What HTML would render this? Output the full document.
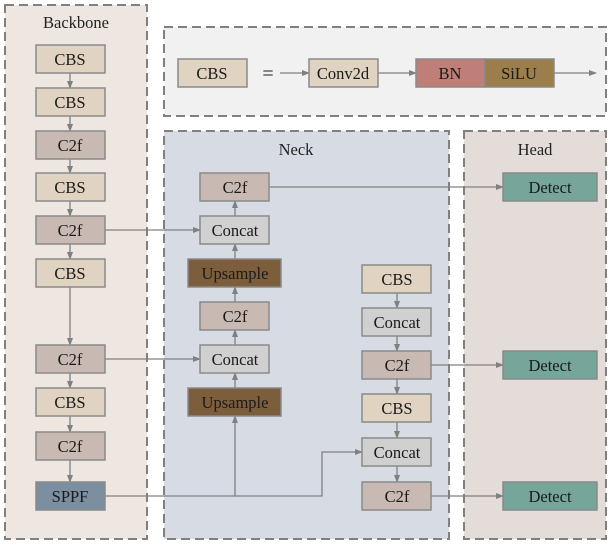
<!DOCTYPE html>
<html><head><meta charset="utf-8"><style>html,body{margin:0;padding:0;background:#fff}svg{display:block}</style></head><body>
<svg width="612" height="545" viewBox="0 0 612 545" xmlns="http://www.w3.org/2000/svg" font-family="Liberation Serif, serif" font-size="16.5">
<defs><marker id="a" markerWidth="8" markerHeight="8" refX="7" refY="4" orient="auto" markerUnits="userSpaceOnUse"><path d="M0,1 L8,4 L0,7 Z" fill="#808080"/></marker></defs>
<g stroke="#808080" stroke-width="2" stroke-dasharray="9,5">
<rect x="5" y="5" width="142" height="534" fill="#eee7e1"/>
<rect x="164" y="27" width="442" height="89" fill="#f1f1f1"/>
<rect x="164" y="131" width="285" height="408" fill="#d7dce4"/>
<rect x="464" y="131" width="142" height="408" fill="#e3dcd8"/>
</g>
<g text-anchor="middle" fill="#222">
<text x="76" y="28">Backbone</text>
<text x="296" y="155">Neck</text>
<text x="535" y="155">Head</text>
</g>
<g stroke="#808080" stroke-width="1.3" fill="none" marker-end="url(#a)">
<line x1="70" y1="73" x2="70" y2="88"/><line x1="70" y1="116" x2="70" y2="131"/><line x1="70" y1="159" x2="70" y2="173"/><line x1="70" y1="201" x2="70" y2="216"/><line x1="70" y1="244" x2="70" y2="259"/><line x1="70" y1="287" x2="70" y2="345"/><line x1="70" y1="373" x2="70" y2="388"/><line x1="70" y1="416" x2="70" y2="432"/><line x1="70" y1="460" x2="70" y2="482"/>
<line x1="105" y1="230" x2="200" y2="230"/><line x1="105" y1="359" x2="200" y2="359"/>
<line x1="235" y1="216" x2="235" y2="201"/><line x1="235" y1="259" x2="235" y2="244"/><line x1="235" y1="302" x2="235" y2="287"/><line x1="235" y1="345" x2="235" y2="330"/><line x1="235" y1="388" x2="235" y2="373"/>
<path d="M105,496 H235 V416" /><path d="M235,496 H322 V452 H362"/>
<line x1="397" y1="293" x2="397" y2="308"/><line x1="397" y1="336" x2="397" y2="351"/><line x1="397" y1="379" x2="397" y2="394"/><line x1="397" y1="422" x2="397" y2="438"/><line x1="397" y1="466" x2="397" y2="482"/>
<line x1="269" y1="187" x2="503" y2="187"/><line x1="431" y1="365" x2="503" y2="365"/><line x1="431" y1="496" x2="503" y2="496"/>
<line x1="280" y1="73" x2="309" y2="73"/><line x1="378" y1="73" x2="416" y2="73"/><line x1="554" y1="73" x2="596" y2="73"/>
</g>
<g stroke="#8a8a8a" stroke-width="1.5">
<rect x="36" y="45" width="69" height="28" fill="#e0d3c1"/>
<rect x="36" y="88" width="69" height="28" fill="#e0d3c1"/>
<rect x="36" y="131" width="69" height="28" fill="#c8bab2"/>
<rect x="36" y="173" width="69" height="28" fill="#e0d3c1"/>
<rect x="36" y="216" width="69" height="28" fill="#c8bab2"/>
<rect x="36" y="259" width="69" height="28" fill="#e0d3c1"/>
<rect x="36" y="345" width="69" height="28" fill="#c8bab2"/>
<rect x="36" y="388" width="69" height="28" fill="#e0d3c1"/>
<rect x="36" y="432" width="69" height="28" fill="#c8bab2"/>
<rect x="36" y="482" width="69" height="28" fill="#7b8fa1"/>
<rect x="178" y="59" width="69" height="28" fill="#e0d3c1"/>
<rect x="309" y="59" width="69" height="28" fill="#e0d3c1"/>
<rect x="416" y="59" width="69" height="28" fill="#bf7f78"/>
<rect x="485" y="59" width="69" height="28" fill="#9c7d4c"/>
<rect x="200" y="173" width="69" height="28" fill="#c8bab2"/>
<rect x="200" y="216" width="69" height="28" fill="#d0d0d0"/>
<rect x="188" y="259" width="93" height="28" fill="#7d5e3c"/>
<rect x="200" y="302" width="69" height="28" fill="#c8bab2"/>
<rect x="200" y="345" width="69" height="28" fill="#d0d0d0"/>
<rect x="188" y="388" width="93" height="28" fill="#7d5e3c"/>
<rect x="362" y="265" width="69" height="28" fill="#e0d3c1"/>
<rect x="362" y="308" width="69" height="28" fill="#d0d0d0"/>
<rect x="362" y="351" width="69" height="28" fill="#c8bab2"/>
<rect x="362" y="394" width="69" height="28" fill="#e0d3c1"/>
<rect x="362" y="438" width="69" height="28" fill="#d0d0d0"/>
<rect x="362" y="482" width="69" height="28" fill="#c8bab2"/>
<rect x="503" y="173" width="94" height="28" fill="#76a59a"/>
<rect x="503" y="351" width="94" height="28" fill="#76a59a"/>
<rect x="503" y="482" width="94" height="28" fill="#76a59a"/>
</g>
<g text-anchor="middle" fill="#1a1a1a">
<text x="70" y="65">CBS</text><text x="70" y="108">CBS</text><text x="70" y="151">C2f</text><text x="70" y="193">CBS</text><text x="70" y="236">C2f</text><text x="70" y="279">CBS</text><text x="70" y="365">C2f</text><text x="70" y="408">CBS</text><text x="70" y="452">C2f</text><text x="70" y="502">SPPF</text>
<text x="212" y="79">CBS</text><text x="268" y="80" font-size="20">=</text><text x="343" y="79">Conv2d</text><text x="450" y="79">BN</text><text x="519" y="79">SiLU</text>
<text x="235" y="193">C2f</text><text x="235" y="236">Concat</text><text x="235" y="279">Upsample</text><text x="235" y="322">C2f</text><text x="235" y="365">Concat</text><text x="235" y="408">Upsample</text>
<text x="397" y="285">CBS</text><text x="397" y="328">Concat</text><text x="397" y="371">C2f</text><text x="397" y="414">CBS</text><text x="397" y="458">Concat</text><text x="397" y="502">C2f</text>
<text x="550" y="193">Detect</text><text x="550" y="371">Detect</text><text x="550" y="502">Detect</text>
</g>
</svg>
</body></html>
